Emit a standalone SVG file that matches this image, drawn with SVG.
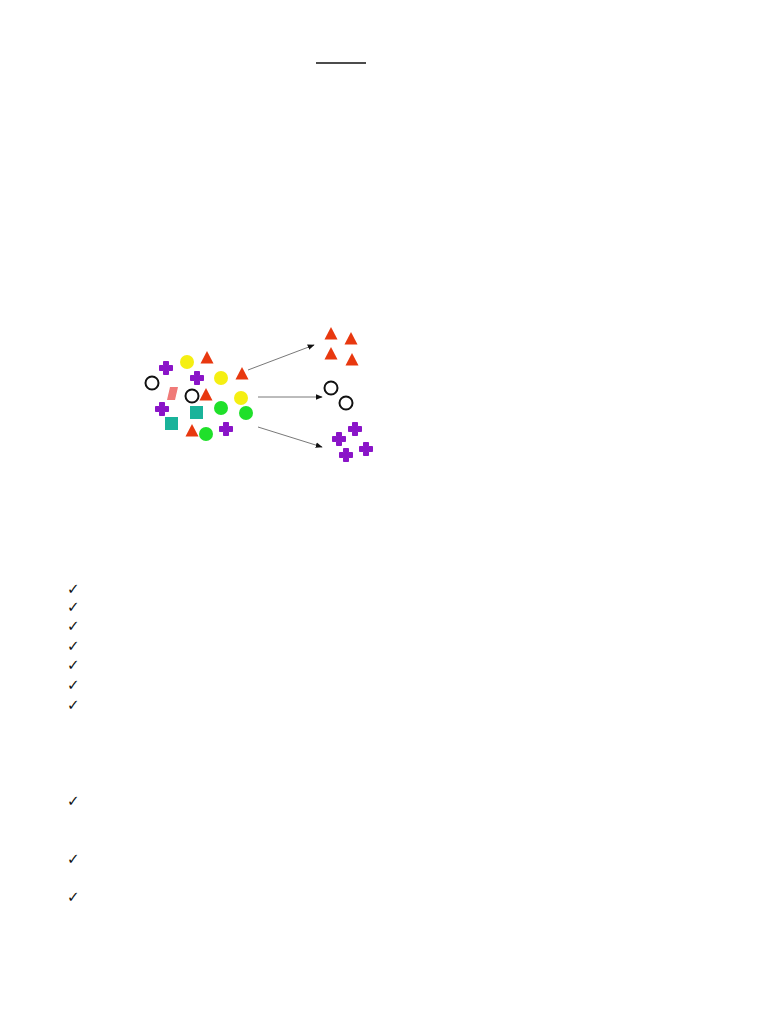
<svg xmlns="http://www.w3.org/2000/svg" width="768" height="1024" viewBox="0 0 768 1024">
<style>
.tri{fill:#e8380f}
.yel{fill:#f5ef12}
.grn{fill:#1fe02a}
.tea{fill:#1ab39a}
.ring{fill:none;stroke:#111;stroke-width:2}
.pur{fill:#8a14c8;stroke:#8a14c8;stroke-width:1;stroke-linejoin:round}
.conn{stroke:#555;stroke-width:0.8;fill:none}
.chk{font-family:"DejaVu Sans",sans-serif;font-size:15px;fill:#111}
</style>
<defs>
<marker id="ah" viewBox="0 0 10 10" refX="9" refY="5" markerWidth="7" markerHeight="7" markerUnits="userSpaceOnUse" orient="auto">
<path d="M0,1 L10,5 L0,9 z" fill="#111"/>
</marker>
<polygon id="t" points="0,-7 6.5,5.5 -6.5,5.5"/>
<path id="p" d="M-2.5,-6.5 h5 v4 h4 v5 h-4 v4 h-5 v-4 h-4 v-5 h4 z"/>
</defs>
<rect width="768" height="1024" fill="#fff"/>
<line x1="316" y1="63" x2="366" y2="63" stroke="#111" stroke-width="1.5"/>

<g id="mixture">
<use href="#p" class="pur" x="166" y="368"/>
<circle class="yel" cx="187" cy="362" r="7"/>
<use href="#t" class="tri" x="207" y="358"/>
<circle class="ring" cx="152" cy="383" r="6.5"/>
<use href="#p" class="pur" x="197" y="378"/>
<circle class="yel" cx="221" cy="378" r="7"/>
<use href="#t" class="tri" x="242" y="374"/>
<polygon points="170,387 178,387 175,400 167,400" fill="#f07a78"/>
<circle class="ring" cx="192" cy="396" r="6.5"/>
<use href="#t" class="tri" x="206" y="395"/>
<circle class="yel" cx="241" cy="398" r="7"/>
<use href="#p" class="pur" x="162" y="409"/>
<rect class="tea" x="190" y="406" width="13" height="13"/>
<circle class="grn" cx="221" cy="408" r="7"/>
<circle class="grn" cx="246" cy="413" r="7"/>
<rect class="tea" x="165" y="417" width="13" height="13"/>
<use href="#t" class="tri" x="192" y="431"/>
<circle class="grn" cx="206" cy="434" r="7"/>
<use href="#p" class="pur" x="226" y="429"/>
</g>

<g id="triangles">
<use href="#t" class="tri" x="331" y="334"/>
<use href="#t" class="tri" x="351" y="339"/>
<use href="#t" class="tri" x="331" y="354"/>
<use href="#t" class="tri" x="352" y="360"/>
</g>

<g id="rings">
<circle class="ring" cx="331" cy="388" r="6.5"/>
<circle class="ring" cx="346" cy="403" r="6.5"/>
</g>

<g id="crosses">
<use href="#p" class="pur" x="355" y="429"/>
<use href="#p" class="pur" x="339" y="439"/>
<use href="#p" class="pur" x="366" y="449"/>
<use href="#p" class="pur" x="346" y="455"/>
</g>

<g id="connectors">
<line class="conn" x1="248" y1="370" x2="314" y2="345" marker-end="url(#ah)"/>
<line class="conn" x1="258" y1="397" x2="322" y2="397" marker-end="url(#ah)"/>
<line class="conn" x1="258" y1="427" x2="322" y2="447" marker-end="url(#ah)"/>
</g>

<g id="checks">
<text class="chk" x="67" y="594">✓</text>
<text class="chk" x="67" y="612">✓</text>
<text class="chk" x="67" y="631">✓</text>
<text class="chk" x="67" y="651">✓</text>
<text class="chk" x="67" y="670">✓</text>
<text class="chk" x="67" y="690">✓</text>
<text class="chk" x="67" y="710">✓</text>
<text class="chk" x="67" y="806">✓</text>
<text class="chk" x="67" y="864">✓</text>
<text class="chk" x="67" y="902">✓</text>
</g>
</svg>
